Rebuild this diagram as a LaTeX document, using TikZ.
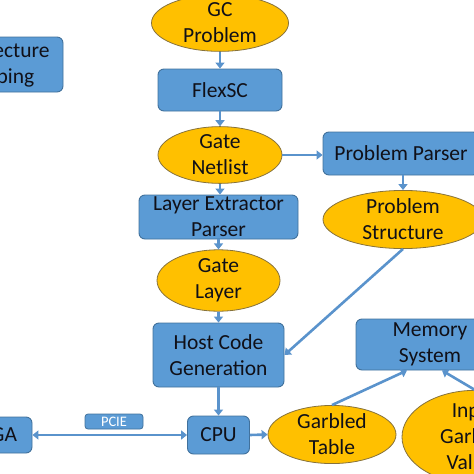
\documentclass[tikz,border=0pt]{standalone}
\usepackage{fontspec}
\setmainfont{Carlito}
\usetikzlibrary{shapes.geometric,arrows.meta}
\definecolor{boxfill}{HTML}{5B9BD5}
\definecolor{boxline}{HTML}{41719C}
\definecolor{ellfill}{HTML}{FFC000}
\definecolor{ellline}{HTML}{86723C}
\definecolor{arrc}{HTML}{5A93CC}
\definecolor{txt}{HTML}{101018}
\tikzset{
  bigtext/.style={font=\fontsize{21.5pt}{26pt}\selectfont, text=txt, align=center},
  bluebox/.style={bigtext, rectangle, rounded corners=6pt, draw=boxline, fill=boxfill, line width=0.9pt, inner sep=0pt},
  goldell/.style={bigtext, ellipse, draw=ellline, fill=ellfill, line width=0.8pt, inner sep=0pt},
  arr/.style={draw=arrc, line width=2.6pt, -{Triangle[length=6pt,width=9pt]}},
  darr/.style={draw=arrc, line width=2.6pt, {Triangle[length=6pt,width=9pt]}-{Triangle[length=6pt,width=9pt]}}
}
\begin{document}
\begin{tikzpicture}[x=1pt,y=-1pt]
\useasboundingbox (0,0) rectangle (474,474);
\clip (0,0) rectangle (474,474);
% nodes
\node[bluebox, minimum width=135pt, minimum height=55pt] (arch) at (-4.5,64.5) {Architecture\\Mapping};
\node[goldell, minimum width=137pt, minimum height=44pt] (gc) at (220,23) {GC\\Problem};
\node[bluebox, minimum width=124pt, minimum height=42pt] (flex) at (220,90) {FlexSC};
\node[goldell, minimum width=124pt, minimum height=46pt] (gn) at (220,155) {Gate\\Netlist};
\node[bluebox, minimum width=159pt, minimum height=44pt] (lep) at (218.5,217) {Layer Extractor\\Parser};
\node[goldell, minimum width=123pt, minimum height=47pt] (gl) at (218.5,280.5) {Gate\\Layer};
\node[bluebox, minimum width=131pt, minimum height=64pt] (hcg) at (218.5,355) {Host Code\\Generation};
\node[bluebox, minimum width=62pt, minimum height=38pt] (cpu) at (218.5,435) {CPU};
\node[bluebox, minimum width=77pt, minimum height=36pt] (fpga) at (-6.5,435) {FPGA};
\node[rectangle, rounded corners=3pt, draw=boxline, fill=boxfill, line width=0.8pt, inner sep=0pt,
      minimum width=58pt, minimum height=15pt, text=white, font=\fontsize{14.5pt}{16pt}\selectfont] (pcie) at (114,421.5) {PCIE};
\node[bluebox, minimum width=156pt, minimum height=43pt] (pp) at (401,153.5) {Problem Parser};
\node[goldell, minimum width=160pt, minimum height=49pt] (ps) at (403,219.5) {Problem\\Structure};
\node[bluebox, minimum width=148pt, minimum height=51pt] (ms) at (430,344.5) {Memory\\System};
\node[goldell, minimum width=128pt, minimum height=49pt] (gt) at (332,434.5) {Garbled\\Table};
\node[goldell, minimum width=146pt, minimum height=84pt] (igv) at (475,437) {Input\\Garbled\\Values};
% connectors
\draw[arr] (gc.south) -- (flex.north);
\draw[arr] (flex.south) -- (gn.north);
\draw[arr] (gn.south) -- (gn.south |- lep.north);
\draw[arr] (gl.north |- lep.south) -- (gl.north);
\draw[arr] (gl.south) -- (hcg.north);
\draw[arr] (hcg.south) -- (cpu.north);
\draw[arr] (gn.east) -- (gn.east -| pp.west);
\draw[arr] (ps.north |- pp.south) -- (ps.north);
\draw[arr] (ps.south) -- (hcg.east);
\draw[darr] (fpga.east) -- (cpu.west);
\draw[arr] (cpu.east) -- (gt.west);
\draw[arr] (gt.north) -- ([xshift=-23pt]ms.south);
\draw[arr] (igv.north) -- ([xshift=12pt]ms.south);
\end{tikzpicture}
\end{document}
